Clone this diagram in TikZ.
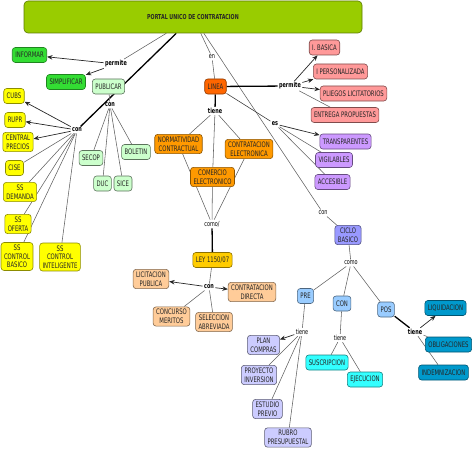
\documentclass[tikz,border=0pt]{standalone}
\usepackage{fontspec}
\setmainfont{DejaVu Sans}[FakeStretch=0.7]
\usepackage{tikz}
\usetikzlibrary{arrows.meta,positioning,backgrounds}

\definecolor{cTitulo}{RGB}{153,204,0}
\definecolor{cVerde}{RGB}{51,221,51}
\definecolor{cVerdeCl}{RGB}{204,255,204}
\definecolor{cAmar}{RGB}{255,255,0}
\definecolor{cLinea}{RGB}{255,102,0}
\definecolor{cNaranja}{RGB}{255,153,0}
\definecolor{cOro}{RGB}{255,204,0}
\definecolor{cDurazno}{RGB}{255,204,153}
\definecolor{cRosa}{RGB}{255,153,153}
\definecolor{cLila}{RGB}{204,153,255}
\definecolor{cCiclo}{RGB}{153,153,255}
\definecolor{cCielo}{RGB}{153,204,255}
\definecolor{cLavanda}{RGB}{204,204,255}
\definecolor{cCian}{RGB}{51,255,255}
\definecolor{cAzul}{RGB}{0,153,204}

\begin{document}
\begin{tikzpicture}[x=1pt,y=-1pt,>={Stealth[length=5.5pt,width=4.5pt]},semithick]
	  \tikzstyle{concept}=[draw,rounded corners=3pt,inner xsep=3pt,inner ysep=2.5pt,
	                       minimum height=15pt,align=center,text=black!85,
	                       font=\fontsize{7.6}{8.6}\selectfont]
	  \tikzstyle{lbl}=[inner sep=1.2pt,font=\fontsize{7}{8}\selectfont]
	  \tikzstyle{lblb}=[lbl,font=\fontsize{7}{8}\selectfont\bfseries]
	  \tikzstyle{link}=[draw=gray!75!black,line width=0.55pt]
	  \tikzstyle{heavy}=[draw=black,line width=1.3pt]
	  \tikzstyle{arr}=[->,draw=black!85,line width=0.7pt]
	  \tikzstyle{verde}=[concept,fill=cVerde,draw=cVerde!60!black]
	  \tikzstyle{verdecl}=[concept,fill=cVerdeCl,draw=cVerdeCl!45!black]
	  \tikzstyle{amar}=[concept,fill=cAmar,draw=cAmar!55!black]
	  \tikzstyle{naranja}=[concept,fill=cNaranja,draw=cNaranja!55!black]
	  \tikzstyle{durazno}=[concept,fill=cDurazno,draw=cDurazno!50!black]
	  \tikzstyle{rosa}=[concept,fill=cRosa,draw=cRosa!50!black]
	  \tikzstyle{lila}=[concept,fill=cLila,draw=cLila!50!black]
	  \tikzstyle{cielo}=[concept,fill=cCielo,draw=cCielo!50!black]
	  \tikzstyle{lavanda}=[concept,fill=cLavanda,draw=cLavanda!45!black]
	  \tikzstyle{cian}=[concept,fill=cCian,draw=cCian!50!black]
	  \tikzstyle{azul}=[concept,fill=cAzul,draw=cAzul!55!black]

	  \useasboundingbox (0,0) rectangle (474,452);

	  % titulo
	  \node[concept,fill=cTitulo,draw=cTitulo!60!black,rounded corners=4pt,
	        minimum width=338pt,minimum height=32pt,
	        font=\fontsize{6.8}{8}\selectfont\bfseries] (portal) at (193,17) {PORTAL UNICO DE CONTRATACION};

	  % rama izquierda
	  \node[lblb]    (permL)       at (116,64)    {permite};
	  \node[verde]   (informar)    at (29.5,55)   {INFORMAR};
	  \node[verde]   (simplificar) at (66,82)     {SIMPLIFICAR};
	  \node[verdecl] (publicar)    at (108.5,86.5) {PUBLICAR};
	  \node[lblb]    (conP)        at (110,105)   {con};
	  \node[verdecl] (secop)       at (91,158)    {SECOP};
	  \node[verdecl] (boletin)     at (136,152)   {BOLETIN};
	  \node[verdecl] (duc)         at (102.5,183.5) {DUC};
	  \node[verdecl] (sice)        at (123,183.5) {SICE};

	  \node[lblb]    (conL)        at (77,130)    {con};
	  \node[amar]    (cubs)        at (14,96)     {CUBS};
	  \node[amar]    (rupr)        at (15,120)    {RUPR};
	  \node[amar]    (central)     at (18,142)    {CENTRAL\\PRECIOS};
	  \node[amar]    (cise)        at (14.5,168)  {CISE};
	  \node[amar]    (ssdem)       at (20,192)    {SS\\DEMANDA};
	  \node[amar]    (ssofe)       at (18,224)    {SS\\OFERTA};
	  \node[amar]    (sscb)        at (17,256.5)  {SS\\CONTROL\\BASICO};
	  \node[amar]    (sscint)      at (60,257)    {SS\\CONTROL\\INTELIGENTE};

	  % rama central
	  \node[lbl]     (en)          at (212,57)    {en};
	  \node[concept,fill=cLinea,draw=cLinea!55!black] (linea) at (215.5,86.5) {LINEA};
	  \node[lblb]    (tieneL)      at (215,111)   {tiene};
	  \node[naranja] (normat)      at (178.5,144) {NORMATIVIDAD\\CONTRACTUAL};
	  \node[naranja] (contelec)    at (249,149)   {CONTRATACION\\ELECTRONICA};
	  \node[naranja] (comercio)    at (212.5,177) {COMERCIO\\ELECTRONICO};
	  \node[lbl]     (comoL)       at (212,224)   {como/};
	  \node[concept,fill=cOro,draw=cOro!55!black] (ley) at (212.5,260) {LEY 1150/07};
	  \node[lblb]    (conM)        at (209,287)   {con};
	  \node[durazno] (licit)       at (151,279)   {LICITACION\\PUBLICA};
	  \node[durazno] (contdir)     at (252,292)   {CONTRATACION\\DIRECTA};
	  \node[durazno] (concurso)    at (171.5,316.5) {CONCURSO\\MERITOS};
	  \node[durazno] (selecc)      at (214,322)   {SELECCION\\ABREVIADA};

	  % rama derecha
	  \node[lblb]    (permR)       at (290,86)    {permite};
	  \node[rosa]    (ibasica)     at (324.5,47.5) {I. BASICA};
	  \node[rosa]    (ipers)       at (340.5,71.5) {I PERSONALIZADA};
	  \node[rosa]    (pliegos)     at (353.5,93.5) {PLIEGOS LICITATORIOS};
	  \node[rosa]    (entrega)     at (345,115)   {ENTREGA PROPUESTAS};
	  \node[lblb]    (es)          at (275,124)   {es};
	  \node[lila]    (transp)      at (345.5,141.5) {TRANSPARENTES};
	  \node[lila]    (vigil)       at (334,160)   {VIGILABLES};
	  \node[lila]    (acces)       at (332.5,182) {ACCESIBLE};

	  \node[lbl]     (conC)        at (323,213)   {con};
	  \node[concept,fill=cCiclo,draw=cCiclo!50!black] (ciclo) at (348,235) {CICLO\\BASICO};
	  \node[lbl]     (comoC)       at (351,263)   {como};
	  \node[cielo]   (pre)         at (305.5,296) {PRE};
	  \node[cielo]   (con)         at (342,303.5) {CON};
	  \node[cielo]   (pos)         at (386,309.5) {POS};
	  \node[lbl]     (tieneA)      at (302,332)   {tiene};
	  \node[lbl]     (tieneB)      at (340,338)   {tiene};
	  \node[lblb]    (tieneC)      at (415,332)   {tiene};
	  \node[lavanda] (plan)        at (263.5,345) {PLAN\\COMPRAS};
	  \node[lavanda] (proyecto)    at (259,375)   {PROYECTO\\INVERSION};
	  \node[lavanda] (estudio)     at (267.5,409) {ESTUDIO\\PREVIO};
	  \node[lavanda] (rubro)       at (288,437.5) {RUBRO\\PRESUPUESTAL};
	  \node[cian]    (suscr)       at (327,362.5) {SUSCRIPCION};
	  \node[cian]    (ejec)        at (365,379.5) {EJECUCION};
	  \node[azul]    (liquid)      at (445.5,308) {LIQUIDACION};
	  \node[azul]    (oblig)       at (448.5,344.5) {OBLIGACIONES};
	  \node[azul]    (indem)       at (443.5,372.5) {INDEMNIZACION};

	  \begin{scope}[on background layer]
	  \path (portal) edge [link]  (permL)
	                 edge [heavy] (conL)
	                 edge [link]  (en)
	                 edge [link]  (conC)
	        (permL)  edge [arr]   (informar)
	                 edge [arr]   (simplificar)
	        (publicar) edge [link] (conP)
	        (conP)   edge [link]  (secop)
	                 edge [link]  (duc)
	                 edge [link]  (sice)
	                 edge [link]  (boletin)
	        (conL)   edge [arr]   (cubs)
	                 edge [arr]   (rupr)
	                 edge [arr]   (central)
	                 edge [link]  (cise)
	                 edge [link]  (ssdem)
	                 edge [link]  (ssofe)
	                 edge [link]  (sscb)
	                 edge [link]  (sscint);
	  \path (en)     edge [link]  (linea)
	        (linea)  edge [heavy] (permR)
	                 edge [link,draw=black!80] (es)
	                 edge [heavy] (tieneL)
	        (permR)  edge [arr]   (ibasica)
	                 edge [arr]   (ipers)
	                 edge [arr]   (pliegos)
	                 edge [link]  (entrega)
	        (es)     edge [arr]   (transp)
	                 edge [link]  (vigil)
	                 edge [link]  (acces)
	        (tieneL) edge [link]  (normat)
	                 edge [link]  (contelec)
	                 edge [link]  (comercio)
	        (normat) edge [link]  (comoL)
	        (contelec) edge [link] (comoL)
	        (comercio) edge [link] (comoL)
	        (comoL)  edge [heavy] (ley)
	        (ley)    edge [link]  (conM)
	        (conM)   edge [arr]   (licit)
	                 edge [arr]   (contdir)
	                 edge [link]  (concurso)
	                 edge [link]  (selecc);
	  \path (conC)   edge [link]  (ciclo)
	        (ciclo)  edge [link]  (comoC)
	        (comoC)  edge [link]  (pre)
	                 edge [link]  (con)
	                 edge [link]  (pos)
	        (pre)    edge [link]  (tieneA)
	        (tieneA) edge [arr]   (plan)
	                 edge [link]  (proyecto)
	                 edge [link]  (estudio)
	                 edge [link]  (rubro)
	        (con)    edge [link]  (tieneB)
	        (tieneB) edge [link]  (suscr)
	                 edge [link]  (ejec)
	        (pos)    edge [heavy] (tieneC)
	        (tieneC) edge [arr]   (liquid)
	                 edge [link]  (oblig)
	                 edge [link]  (indem);
	  \end{scope}
\end{tikzpicture}
\end{document}
